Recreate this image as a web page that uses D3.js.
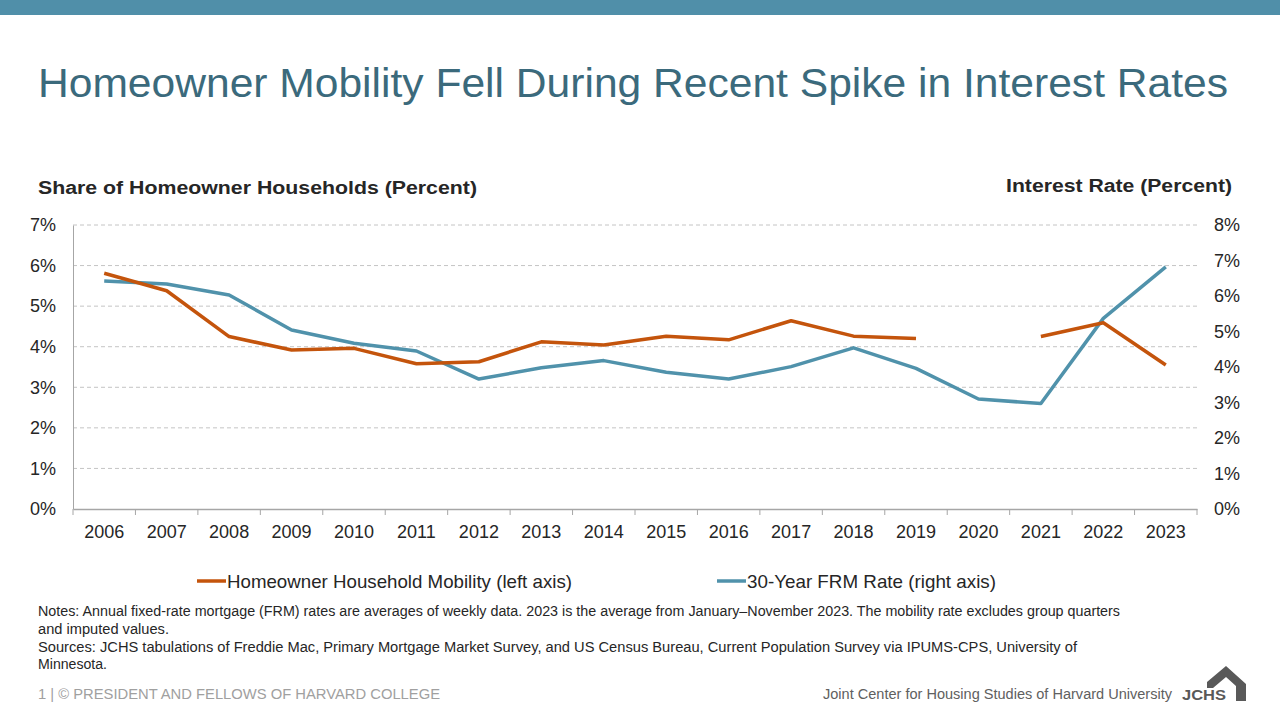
<!DOCTYPE html>
<html>
<head>
<meta charset="utf-8">
<script src="https://cdn.jsdelivr.net/npm/d3@7"></script>
<style>
  body { margin: 0; background: #fff; }
  svg { font-family: "Liberation Sans", Arial, sans-serif; }
</style>
</head>
<body>
<div id="chart"></div>
<script>
// data
var years = ["2006","2007","2008","2009","2010","2011","2012","2013","2014","2015","2016","2017","2018","2019","2020","2021","2022","2023"];
var mobility = [5.81, 5.38, 4.25, 3.92, 3.96, 3.58, 3.63, 4.12, 4.04, 4.26, 4.17, 4.64, 4.26, 4.20, null, 4.25, 4.59, 3.55];
var frmRate = [6.42, 6.34, 6.03, 5.04, 4.67, 4.45, 3.66, 3.98, 4.18, 3.85, 3.66, 4.01, 4.54, 3.96, 3.10, 2.97, 5.37, 6.82];
var leftTicks = [0, 1, 2, 3, 4, 5, 6, 7];
var rightTicks = [0, 1, 2, 3, 4, 5, 6, 7, 8];

var orange = "#c4540c", blue = "#5092ab";

var svg = d3.select("#chart").append("svg")
    .attr("width", 1280)
    .attr("height", 720);

// top band
svg.append("rect").attr("x", 0).attr("y", 0).attr("width", 1280).attr("height", 15).attr("fill", "#508fa9");

// title
svg.append("text")
    .attr("x", 38).attr("y", 97)
    .attr("fill", "#3b6a7c")
    .style("font-size", "40px")
    .attr("textLength", 1190)
    .attr("lengthAdjust", "spacingAndGlyphs")
    .text("Homeowner Mobility Fell During Recent Spike in Interest Rates");

// axis titles
svg.append("text")
    .attr("x", 38).attr("y", 194)
    .attr("fill", "#262626")
    .style("font-size", "18px").style("font-weight", "bold")
    .attr("textLength", 439).attr("lengthAdjust", "spacingAndGlyphs")
    .text("Share of Homeowner Households (Percent)");
svg.append("text")
    .attr("x", 1006).attr("y", 192)
    .attr("fill", "#262626")
    .style("font-size", "18px").style("font-weight", "bold")
    .attr("textLength", 226).attr("lengthAdjust", "spacingAndGlyphs")
    .text("Interest Rate (Percent)");

var plotLeft = 73, plotRight = 1197, plotTop = 225, plotBottom = 509;

var x = d3.scaleBand().domain(years).range([plotLeft, plotRight]);
var yL = d3.scaleLinear().domain([0, 7]).range([plotBottom, plotTop]);
var yR = d3.scaleLinear().domain([0, 8]).range([plotBottom, plotTop]);

// gridlines
svg.append("g")
    .selectAll("line")
    .data(leftTicks.filter(function(d) { return d > 0; }))
    .enter().append("line")
    .attr("x1", plotLeft).attr("x2", plotRight)
    .attr("y1", function(d) { return yL(d); })
    .attr("y2", function(d) { return yL(d); })
    .attr("stroke", "#c4c4c4")
    .attr("stroke-width", 1)
    .attr("stroke-dasharray", "4,3");

// left axis
var leftAxis = svg.append("g")
    .attr("transform", "translate(" + plotLeft + ",0)")
    .call(d3.axisLeft(yL).tickValues(leftTicks).tickSize(0).tickPadding(17)
        .tickFormat(function(d) { return d + "%"; }));
leftAxis.select(".domain").attr("stroke", "#a6a6a6");
leftAxis.selectAll("text").style("font-size", "18px").attr("fill", "#262626")
    .attr("font-family", "Liberation Sans, Arial, sans-serif");

// right axis
var rightAxis = svg.append("g")
    .attr("transform", "translate(" + plotRight + ",0)")
    .call(d3.axisRight(yR).tickValues(rightTicks).tickSize(0).tickPadding(17)
        .tickFormat(function(d) { return d + "%"; }));
rightAxis.select(".domain").remove();
rightAxis.selectAll("text").style("font-size", "18px").attr("fill", "#262626")
    .attr("font-family", "Liberation Sans, Arial, sans-serif");

// bottom axis
var bottomAxis = svg.append("g")
    .attr("transform", "translate(0," + plotBottom + ")")
    .call(d3.axisBottom(x).tickSize(0).tickPadding(16));
bottomAxis.select(".domain").attr("stroke", "#a6a6a6").attr("stroke-width", 1.5);
bottomAxis.selectAll("text").style("font-size", "18px").attr("fill", "#262626")
    .attr("font-family", "Liberation Sans, Arial, sans-serif");
// tick marks at category boundaries
bottomAxis.selectAll(".sep")
    .data(years.concat(["end"]))
    .enter().append("line")
    .attr("x1", function(d, i) { return plotLeft + i * x.step(); })
    .attr("x2", function(d, i) { return plotLeft + i * x.step(); })
    .attr("y1", 0).attr("y2", 6)
    .attr("stroke", "#a6a6a6");

// lines
var lineMob = d3.line()
    .defined(function(d) { return d.v != null; })
    .x(function(d) { return x(d.year) + x.bandwidth() / 2; })
    .y(function(d) { return yL(d.v); });
var lineFrm = d3.line()
    .x(function(d) { return x(d.year) + x.bandwidth() / 2; })
    .y(function(d) { return yR(d.v); });

svg.append("path")
    .datum(years.map(function(y, i) { return {year: y, v: frmRate[i]}; }))
    .attr("fill", "none")
    .attr("stroke", blue)
    .attr("stroke-width", 3.5)
    .attr("stroke-linejoin", "round")
    .attr("d", lineFrm);

svg.append("path")
    .datum(years.map(function(y, i) { return {year: y, v: mobility[i]}; }))
    .attr("fill", "none")
    .attr("stroke", orange)
    .attr("stroke-width", 3.5)
    .attr("stroke-linejoin", "round")
    .attr("d", lineMob);

// legend
var legend = [
  {label: "Homeowner Household Mobility (left axis)", color: orange, x: 197, w: 345},
  {label: "30-Year FRM Rate (right axis)", color: blue, x: 717, w: 249}
];
var lg = svg.append("g").selectAll("g").data(legend).enter().append("g");
lg.append("line")
    .attr("x1", function(d) { return d.x; })
    .attr("x2", function(d) { return d.x + 29; })
    .attr("y1", 581).attr("y2", 581)
    .attr("stroke", function(d) { return d.color; })
    .attr("stroke-width", 3.5);
lg.append("text")
    .attr("x", function(d) { return d.x + 30; })
    .attr("y", 588)
    .attr("fill", "#262626")
    .style("font-size", "19px")
    .attr("textLength", function(d) { return d.w; })
    .attr("lengthAdjust", "spacingAndGlyphs")
    .text(function(d) { return d.label; });

// notes
var notes = [
  {t: "Notes: Annual fixed-rate mortgage (FRM) rates are averages of weekly data. 2023 is the average from January\u2013November 2023. The mobility rate excludes group quarters", w: 1082},
  {t: "and imputed values.", w: 131},
  {t: "Sources: JCHS tabulations of Freddie Mac, Primary Mortgage Market Survey, and US Census Bureau, Current Population Survey via IPUMS-CPS, University of", w: 1039},
  {t: "Minnesota.", w: 69}
];
svg.append("g").selectAll("text").data(notes).enter().append("text")
    .attr("x", 38)
    .attr("y", function(d, i) { return 616 + i * 17.8; })
    .attr("fill", "#262626")
    .style("font-size", "14px")
    .attr("textLength", function(d) { return d.w; })
    .attr("lengthAdjust", "spacingAndGlyphs")
    .text(function(d) { return d.t; });

// footer
svg.append("text")
    .attr("x", 38).attr("y", 699)
    .attr("fill", "#a0a0a0")
    .style("font-size", "14px")
    .attr("textLength", 402).attr("lengthAdjust", "spacingAndGlyphs")
    .text("1 | \u00a9 PRESIDENT AND FELLOWS OF HARVARD COLLEGE");
svg.append("text")
    .attr("x", 823).attr("y", 699)
    .attr("fill", "#606060")
    .style("font-size", "14px")
    .attr("textLength", 349).attr("lengthAdjust", "spacingAndGlyphs")
    .text("Joint Center for Housing Studies of Harvard University");
svg.append("text")
    .attr("x", 1182).attr("y", 700)
    .attr("fill", "#595959")
    .style("font-size", "14px").style("font-weight", "bold")
    .attr("textLength", 44).attr("lengthAdjust", "spacingAndGlyphs")
    .text("JCHS");
// house logo
svg.append("path")
    .attr("d", "M1207,682 L1226,666 L1246,684 L1246,701 L1236,701 L1236,686 L1226,677 L1213,688 L1207,688 Z")
    .attr("fill", "#595959");
</script>
</body>
</html>
